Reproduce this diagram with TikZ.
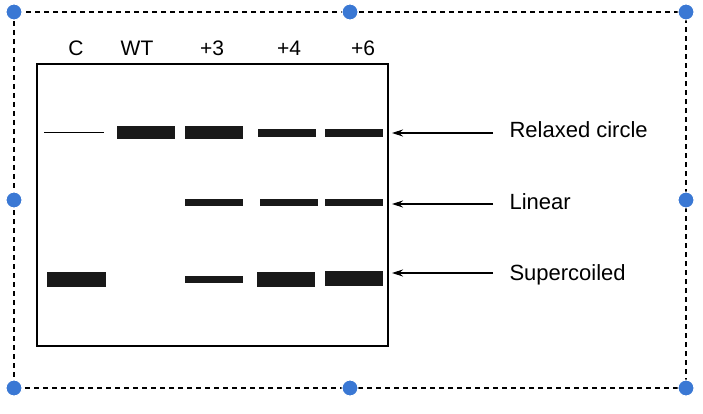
\documentclass[tikz,border=0pt]{standalone}
\usepackage{fontspec}
\setmainfont{Liberation Sans}
\usetikzlibrary{arrows.meta}
\definecolor{hblue}{HTML}{3A78D4}
\begin{document}
\begin{tikzpicture}[x=1pt,y=-1pt,
  lbl/.style={font=\fontsize{21}{24}\selectfont},
  rlbl/.style={font=\fontsize{22}{25}\selectfont},
  band/.style={fill=black!90},
  arr/.style={-{Stealth[length=11pt,width=7pt]},line width=1.1pt},
  handle/.style={circle,fill=hblue,draw=white,line width=1pt,minimum size=16pt,inner sep=0pt}]
\useasboundingbox (0,0) rectangle (703,414);
\draw[dash pattern=on 5pt off 4pt,line width=1.3pt] (14,12) rectangle (686,388);
\draw[line width=1.3pt] (37,64) rectangle (388,346);
\node[lbl] (lc) at (76,48) {C};
\node[lbl] (lwt) at (137,48) {WT};
\node[lbl] (l3) at (212,48) {+3};
\node[lbl] (l4) at (289,48) {+4};
\node[lbl] (l6) at (363,48) {+6};
% row 1
\draw[line width=1pt] (44,133) -- (104,133);
\fill[band] (117,126) rectangle (175,139);
\fill[band] (185,126) rectangle (243,139);
\fill[band] (258,129) rectangle (316,137);
\fill[band] (325,129) rectangle (383,137);
% row 2
\fill[band] (185,199) rectangle (243,206);
\fill[band] (260,199) rectangle (318,206);
\fill[band] (325,199) rectangle (383,206);
% row 3
\fill[band] (47,272) rectangle (106,287);
\fill[band] (185,276) rectangle (243,283);
\fill[band] (257,272) rectangle (315,287);
\fill[band] (325,271) rectangle (383,286);
\node[rlbl,anchor=west] (rc) at (506,130) {Relaxed circle};
\node[rlbl,anchor=west] (li) at (506,202) {Linear};
\node[rlbl,anchor=west] (sc) at (506,275) {Supercoiled};
\coordinate (t1) at (392,133); \coordinate (t2) at (392,204); \coordinate (t3) at (392,273);
\draw[arr] (493,133) -- (t1);
\draw[arr] (493,204) -- (t2);
\draw[arr] (493,273) -- (t3);
\foreach \x/\y [count=\i] in {14/12,350/12,686/12,14/200,686/200,14/388,350/388,686/388}
  \node[handle] (h\i) at (\x,\y) {};
\end{tikzpicture}
\end{document}
